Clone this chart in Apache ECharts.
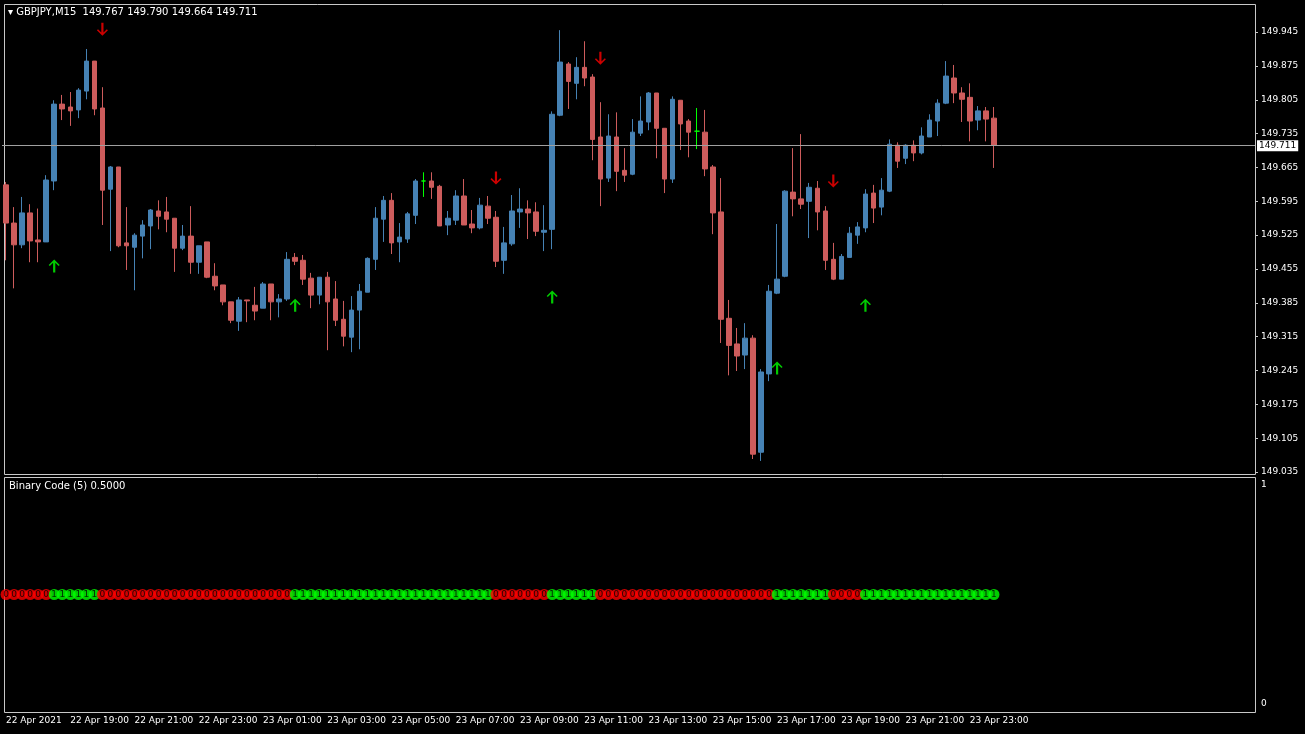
<!DOCTYPE html>
<html>
<head>
<meta charset="utf-8">
<script src="https://cdn.jsdelivr.net/npm/echarts@6/dist/echarts.min.js"></script>
<style>html,body{margin:0;background:#000;}#chart{width:1305px;height:734px;}</style>
</head>
<body>
<div id="chart"></div>
<script>
// GBPJPY M15 with Binary Code indicator
var chart = echarts.init(document.getElementById('chart'));

// open, close, low, high per bar (bar 0 = 22 Apr 17:00)
var opens = [149.629,149.550,149.505,149.571,149.515,149.511,149.637,149.796,149.790,149.784,149.823,149.885,149.788,149.620,149.666,149.509,149.500,149.523,149.544,149.575,149.573,149.560,149.498,149.523,149.469,149.511,149.440,149.422,149.387,149.347,149.391,149.380,149.374,149.424,149.387,149.393,149.479,149.473,149.436,149.401,149.438,149.393,149.351,149.314,149.370,149.407,149.475,149.558,149.597,149.511,149.517,149.566,149.637,149.637,149.626,149.546,149.556,149.606,149.548,149.540,149.585,149.562,149.473,149.507,149.573,149.579,149.573,149.531,149.537,149.773,149.879,149.839,149.872,149.852,149.728,149.643,149.728,149.659,149.651,149.736,149.759,149.819,149.746,149.641,149.804,149.761,149.740,149.738,149.666,149.573,149.353,149.300,149.277,149.312,149.076,149.238,149.405,149.440,149.614,149.600,149.595,149.622,149.575,149.475,149.434,149.479,149.525,149.540,149.612,149.583,149.616,149.711,149.684,149.711,149.695,149.728,149.761,149.798,149.850,149.819,149.810,149.763,149.782,149.767];
var closes = [149.550,149.505,149.571,149.513,149.511,149.639,149.796,149.786,149.782,149.825,149.885,149.786,149.618,149.666,149.503,149.503,149.525,149.546,149.577,149.564,149.558,149.498,149.523,149.469,149.503,149.438,149.420,149.387,149.349,149.391,149.389,149.368,149.424,149.387,149.393,149.475,149.471,149.434,149.401,149.438,149.387,149.349,149.316,149.370,149.409,149.477,149.560,149.597,149.509,149.521,149.569,149.637,149.637,149.624,149.544,149.560,149.606,149.546,149.540,149.587,149.560,149.471,149.509,149.575,149.579,149.571,149.533,149.535,149.775,149.883,149.843,149.872,149.850,149.723,149.641,149.730,149.657,149.649,149.738,149.761,149.819,149.746,149.641,149.806,149.755,149.738,149.740,149.662,149.571,149.351,149.297,149.275,149.312,149.072,149.242,149.409,149.434,149.616,149.600,149.589,149.624,149.573,149.473,149.434,149.481,149.529,149.542,149.610,149.581,149.618,149.713,149.678,149.711,149.695,149.730,149.763,149.798,149.854,149.819,149.806,149.761,149.782,149.765,149.711];
var lows = [149.473,149.415,149.498,149.469,149.469,149.511,149.618,149.763,149.751,149.767,149.806,149.773,149.546,149.492,149.500,149.453,149.411,149.477,149.496,149.537,149.531,149.449,149.494,149.445,149.445,149.436,149.411,149.380,149.343,149.327,149.345,149.349,149.374,149.349,149.355,149.389,149.463,149.422,149.374,149.382,149.287,149.337,149.295,149.283,149.289,149.407,149.453,149.511,149.486,149.469,149.509,149.548,149.604,149.600,149.544,149.525,149.546,149.546,149.529,149.537,149.548,149.459,149.445,149.503,149.540,149.517,149.523,149.492,149.496,149.771,149.786,149.806,149.833,149.680,149.585,149.635,149.616,149.635,149.649,149.730,149.742,149.684,149.612,149.633,149.701,149.686,149.703,149.647,149.527,149.302,149.235,149.244,149.248,149.062,149.058,149.223,149.403,149.438,149.564,149.579,149.519,149.535,149.453,149.432,149.434,149.479,149.507,149.531,149.550,149.566,149.614,149.664,149.672,149.678,149.692,149.728,149.730,149.796,149.798,149.759,149.719,149.742,149.719,149.664];
var highs = [149.635,149.583,149.604,149.589,149.580,149.649,149.804,149.815,149.821,149.829,149.910,149.885,149.831,149.668,149.666,149.583,149.529,149.556,149.579,149.597,149.604,149.560,149.546,149.585,149.503,149.511,149.467,149.422,149.387,149.397,149.391,149.418,149.428,149.424,149.403,149.490,149.488,149.484,149.447,149.438,149.449,149.430,149.389,149.399,149.424,149.479,149.583,149.606,149.612,149.550,149.573,149.641,149.655,149.655,149.629,149.575,149.618,149.641,149.577,149.602,149.606,149.575,149.542,149.608,149.622,149.597,149.593,149.587,149.781,149.949,149.883,149.893,149.926,149.858,149.800,149.775,149.779,149.705,149.765,149.812,149.821,149.819,149.746,149.812,149.804,149.765,149.788,149.784,149.670,149.643,149.391,149.333,149.343,149.318,149.248,149.422,149.548,149.618,149.705,149.734,149.633,149.637,149.585,149.509,149.486,149.542,149.552,149.620,149.629,149.643,149.723,149.717,149.713,149.721,149.748,149.775,149.806,149.885,149.877,149.831,149.839,149.792,149.790,149.790];

// indicator output per bar
var binaryCode = [0,0,0,0,0,0, 1,1,1,1,1,1, 0,0,0,0,0,0,0,0,0,0,0,0,0,0,0,0,0,0,0,0,0,0,0,0,
  1,1,1,1,1,1,1,1,1,1,1,1,1,1,1,1,1,1,1,1,1,1,1,1,1, 0,0,0,0,0,0,0, 1,1,1,1,1,1,
  0,0,0,0,0,0,0,0,0,0,0,0,0,0,0,0,0,0,0,0,0,0, 1,1,1,1,1,1,1, 0,0,0,0,
  1,1,1,1,1,1,1,1,1,1,1,1,1,1,1,1,1];

// signal arrows: [bar index, price]
var upArrows = [[6,149.461],[36,149.380],[68,149.397],[96,149.250],[107,149.380]];
var downArrows = [[12,149.951],[61,149.643],[74,149.891],[103,149.637]];

var tickLabels = ['22 Apr 2021','22 Apr 19:00','22 Apr 21:00','22 Apr 23:00','23 Apr 01:00','23 Apr 03:00','23 Apr 05:00','23 Apr 07:00','23 Apr 09:00','23 Apr 11:00','23 Apr 13:00','23 Apr 15:00','23 Apr 17:00','23 Apr 19:00','23 Apr 21:00','23 Apr 23:00'];
var priceTicks = [149.035,149.105,149.175,149.245,149.315,149.385,149.455,149.525,149.595,149.665,149.735,149.805,149.875,149.945];
var lastPrice = 149.711;

var totalSlots = 156;
var cats = [];
for (var i = 0; i < totalSlots; i++) {
    var k = i / 8;
    cats.push(i % 8 === 0 && k < tickLabels.length ? tickLabels[k] : '');
}

var candles = opens.map(function (o, i) {
    var item = {value: [o, closes[i], lows[i], highs[i]]};
    if (o === closes[i]) item.itemStyle = {color: '#00ff00', color0: '#00ff00', borderColor: '#00ff00', borderColor0: '#00ff00'};
    return item;
});

var binData = binaryCode.map(function (b, i) {
    return {
        value: [i, 0.5],
        label: {formatter: String(b)},
        itemStyle: {color: b ? '#00ff00' : '#ff0000'}
    };
});

var arrowUp = 'path://M5,0 L10,5 L9,6 L6,3 L6,12 L4,12 L4,3 L1,6 L0,5 Z';
var arrowDown = 'path://M5,12 L10,7 L9,6 L6,9 L6,0 L4,0 L4,9 L1,6 L0,7 Z';

var axisFont = {color: '#ffffff', fontSize: 9, fontFamily: 'DejaVu Sans'};

var option = {
    backgroundColor: '#000000',
    animation: false,
    graphic: [
        {type: 'rect', shape: {x: 4.5, y: 4.5, width: 1251, height: 470}, style: {fill: null, stroke: '#c8c8c8', lineWidth: 1}},
        {type: 'rect', shape: {x: 4.5, y: 477.5, width: 1251, height: 235}, style: {fill: null, stroke: '#c8c8c8', lineWidth: 1}},
        {type: 'text', left: 8, top: 7, style: {text: '▾ GBPJPY,M15  149.767 149.790 149.664 149.711', fill: '#ffffff', font: '10px "DejaVu Sans"'}},
        {type: 'text', left: 9, top: 481, style: {text: 'Binary Code (5) 0.5000', fill: '#ffffff', font: '10px "DejaVu Sans"'}}
    ],
    grid: [
        {left: 2, top: 5, width: 1253, height: 469},
        {left: 2, top: 485, width: 1253, height: 219}
    ],
    xAxis: [
        {type: 'category', gridIndex: 0, data: cats, boundaryGap: true,
         axisLine: {show: false}, axisTick: {show: false}, axisLabel: {show: false}, splitLine: {show: false}},
        {type: 'category', gridIndex: 1, data: cats, boundaryGap: true, position: 'bottom', offset: 12,
         axisLine: {show: false}, axisTick: {show: false},
         axisLabel: Object.assign({interval: 0, align: 'left', margin: 0}, axisFont), splitLine: {show: false}}
    ],
    yAxis: [
        {type: 'value', gridIndex: 0, position: 'right', min: 149.031, max: 150.001, scale: true,
         axisLine: {show: false}, splitLine: {show: false},
         axisTick: {show: true, length: 3, inside: false, lineStyle: {color: '#c8c8c8'}, customValues: priceTicks},
         axisLabel: Object.assign({customValues: priceTicks, margin: 6, formatter: function (v) { return v.toFixed(3); }}, axisFont)},
        {type: 'value', gridIndex: 1, position: 'right', min: 0, max: 1, interval: 1,
         axisLine: {show: false}, splitLine: {show: false}, axisTick: {show: false},
         axisLabel: Object.assign({margin: 6}, axisFont)}
    ],
    series: [
        {
            type: 'candlestick', xAxisIndex: 0, yAxisIndex: 0, barWidth: 5,
            data: candles,
            itemStyle: {color: '#4682b4', color0: '#cd5c5c', borderColor: '#4682b4', borderColor0: '#cd5c5c', borderWidth: 1},
            markLine: {
                symbol: 'none', silent: true,
                lineStyle: {color: '#a0a0a0', width: 1, type: 'solid'},
                label: {position: 'end', distance: 2, formatter: '149.711', color: '#000', backgroundColor: '#ffffff', fontSize: 9, padding: [1, 2], fontFamily: 'DejaVu Sans'},
                data: [{yAxis: lastPrice}]
            }
        },
        {type: 'scatter', xAxisIndex: 0, yAxisIndex: 0, symbol: arrowUp, symbolSize: [11, 13],
         itemStyle: {color: '#00ff00'}, data: upArrows},
        {type: 'scatter', xAxisIndex: 0, yAxisIndex: 0, symbol: arrowDown, symbolSize: [11, 13],
         itemStyle: {color: '#ff0000'}, data: downArrows},
        {type: 'scatter', xAxisIndex: 1, yAxisIndex: 1, symbol: 'circle', symbolSize: 11,
         label: {show: true, position: 'inside', color: '#000', fontSize: 9, fontFamily: 'DejaVu Sans'},
         data: binData}
    ]
};
chart.setOption(option);
</script>
</body>
</html>
